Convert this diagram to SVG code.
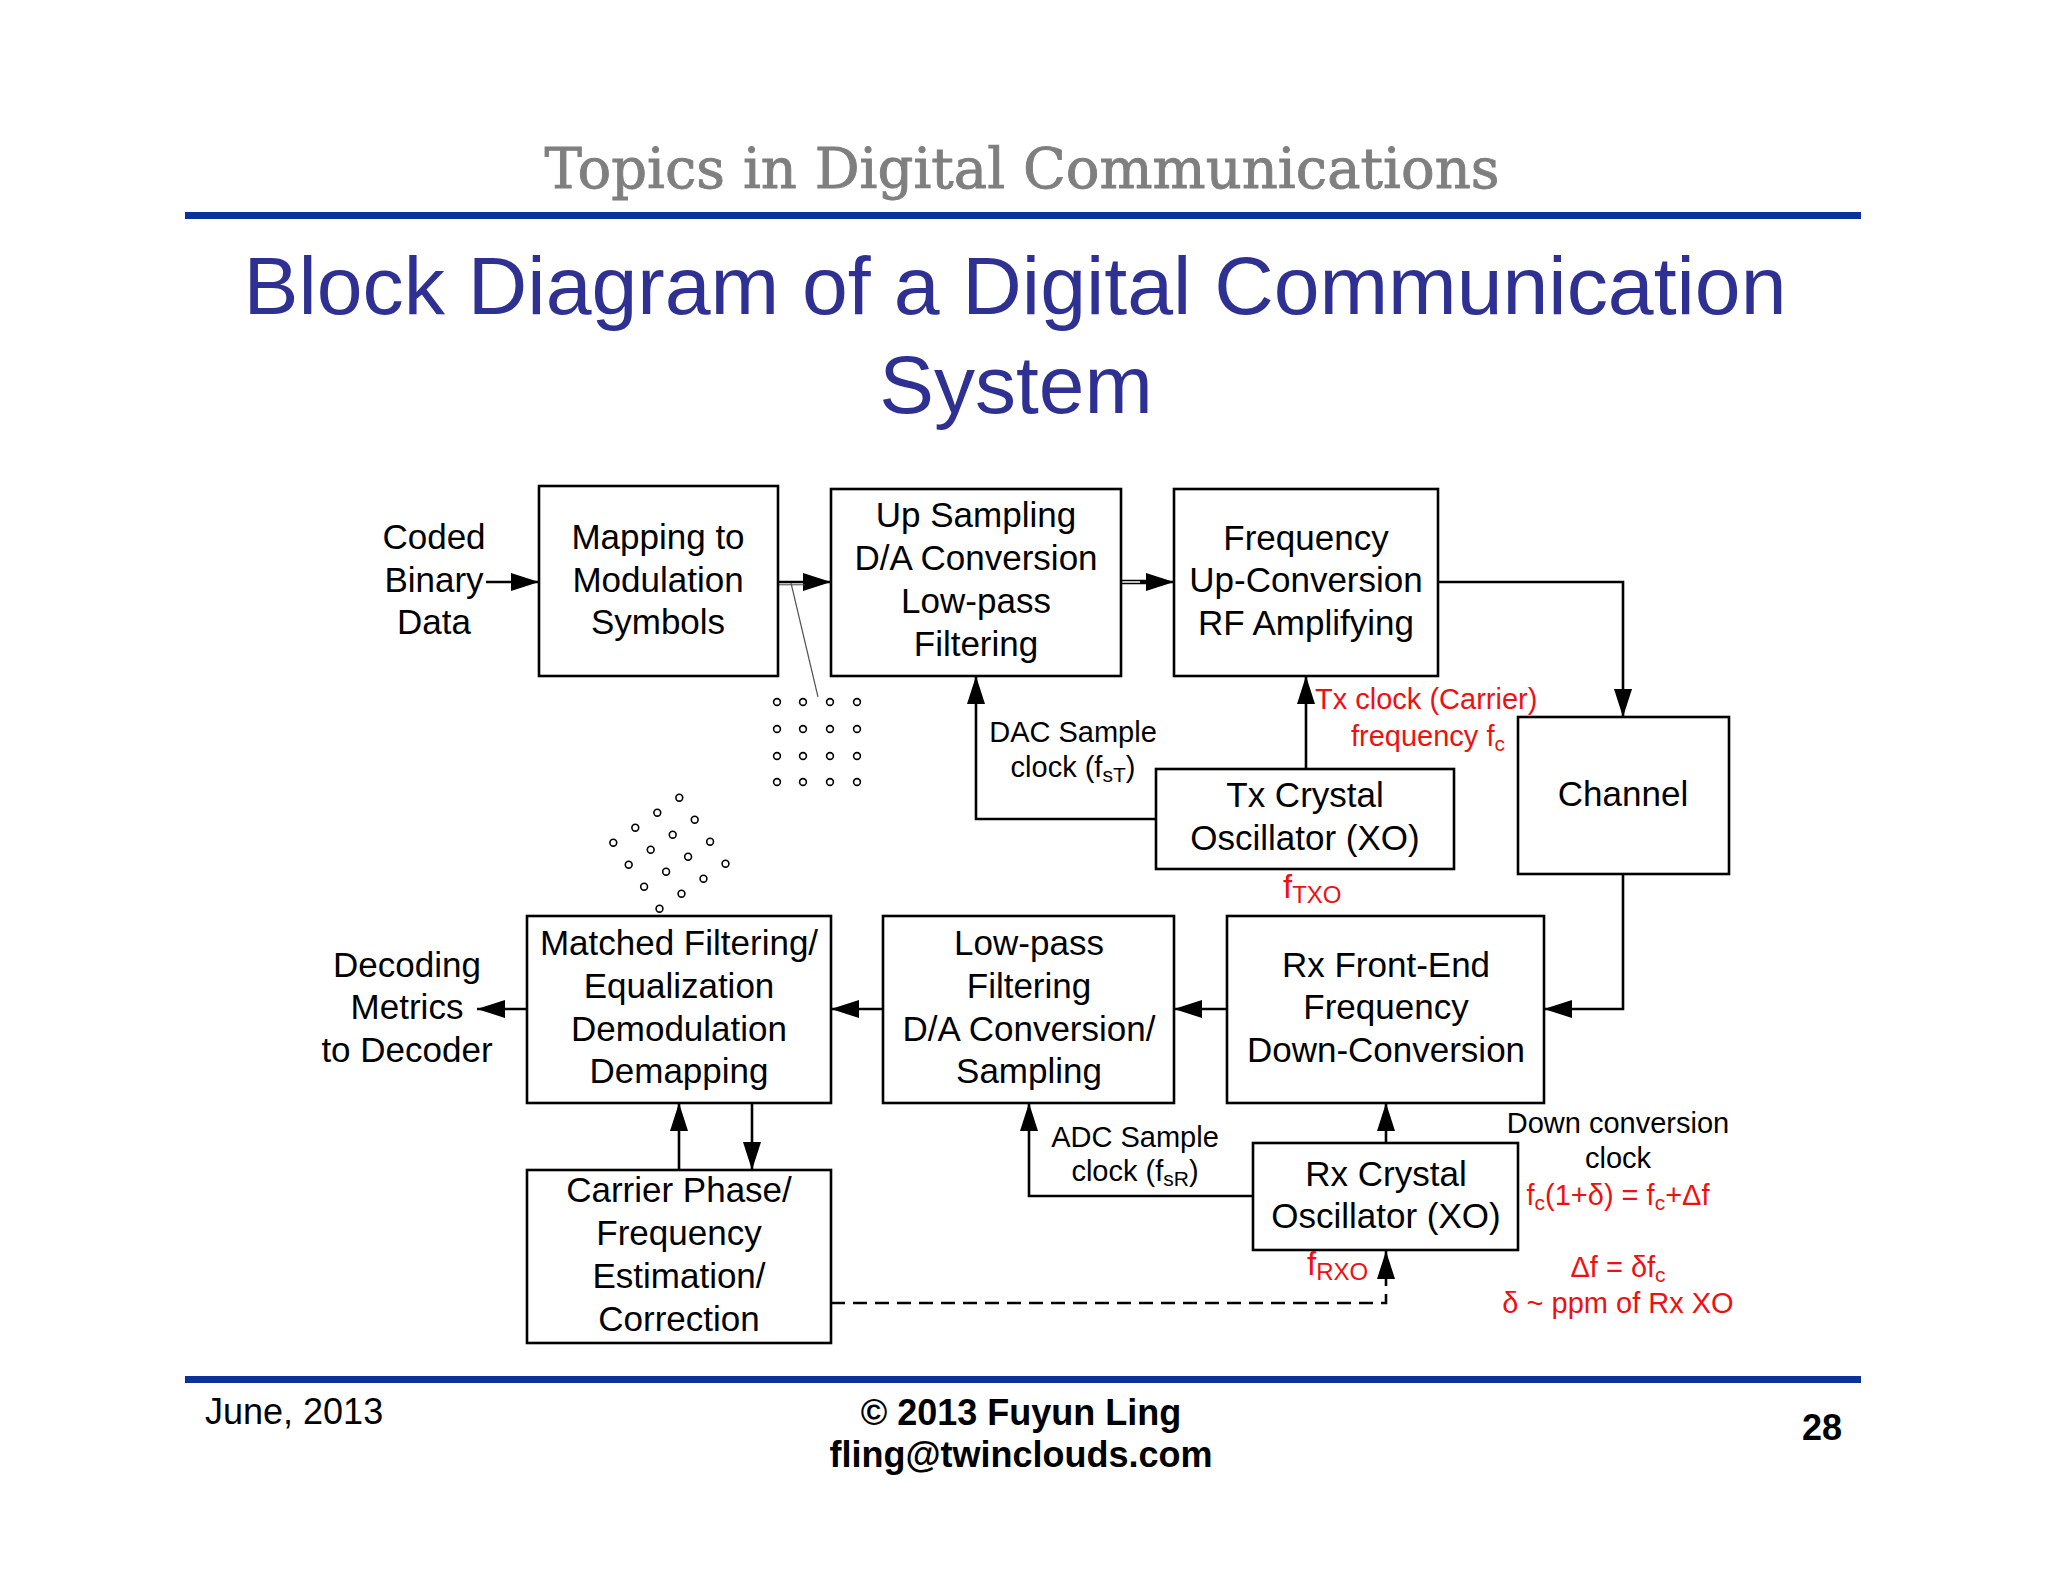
<svg xmlns="http://www.w3.org/2000/svg" width="2048" height="1582" viewBox="0 0 2048 1582">
<defs>
<style>
.box{fill:#fff;stroke:#000;stroke-width:2.6}
.ln{fill:none;stroke:#000;stroke-width:2.6}
.t{font-family:"Liberation Sans",Arial,sans-serif;font-size:35px;text-anchor:middle;fill:#000}
.s{font-size:29px}
.red{fill:#ee1111}
.sub{font-size:21px}
.fx{font-size:33px}
.fxs{font-size:24px}
.dot{fill:none;stroke:#000;stroke-width:1.6}
</style>
<marker id="arr" markerUnits="userSpaceOnUse" markerWidth="28" markerHeight="18" refX="28" refY="9" orient="auto" viewBox="0 0 28 18">
<path d="M0,0 L28,9 L0,18 Z" fill="#000" stroke="none"/>
</marker>
<circle id="d" r="3.4" class="dot"/>
</defs>
<rect width="2048" height="1582" fill="#fff"/>

<g id="header">
<text x="1022" y="188" font-family="'DejaVu Serif','Liberation Serif',serif" font-size="56" fill="#7f7f7f" stroke="#7f7f7f" stroke-width="0.9" text-anchor="middle" textLength="955" lengthAdjust="spacingAndGlyphs">Topics in Digital Communications</text>
<rect x="185" y="212" width="1676" height="7" fill="#0a3399"/>
<text x="1015" y="314" font-family="'Liberation Sans',Arial,sans-serif" font-size="82" fill="#2e3192" text-anchor="middle" textLength="1543" lengthAdjust="spacingAndGlyphs">Block Diagram of a Digital Communication</text>
<text x="1016" y="413" font-family="'Liberation Sans',Arial,sans-serif" font-size="82" fill="#2e3192" text-anchor="middle">System</text>
</g>

<g id="connectors">
<line class="ln" x1="486" y1="582" x2="539" y2="582" marker-end="url(#arr)"/>
<line class="ln" x1="778" y1="582" x2="831" y2="582" marker-end="url(#arr)"/>
<line x1="778" y1="584.8" x2="805" y2="584.8" stroke="#444" stroke-width="1"/>
<line x1="791" y1="583" x2="818" y2="697" stroke="#555" stroke-width="1.2"/>
<line x1="1121" y1="580.5" x2="1160" y2="580.5" stroke="#000" stroke-width="1.6"/>
<line x1="1121" y1="583.5" x2="1160" y2="583.5" stroke="#000" stroke-width="1.6"/>
<line class="ln" x1="1140" y1="582" x2="1174" y2="582" marker-end="url(#arr)"/>
<path class="ln" d="M1438,582 H1623 V717" marker-end="url(#arr)"/>
<line class="ln" x1="1306" y1="769" x2="1306" y2="676" marker-end="url(#arr)"/>
<path class="ln" d="M1156,819 H976 V676" marker-end="url(#arr)"/>
<path class="ln" d="M1623,874 V1009 H1544" marker-end="url(#arr)"/>
<line class="ln" x1="1227" y1="1009" x2="1174" y2="1009" marker-end="url(#arr)"/>
<line class="ln" x1="883" y1="1009" x2="831" y2="1009" marker-end="url(#arr)"/>
<line class="ln" x1="526" y1="1009" x2="477" y2="1009" marker-end="url(#arr)"/>
<line class="ln" x1="1386" y1="1143" x2="1386" y2="1103" marker-end="url(#arr)"/>
<path class="ln" d="M1253,1196 H1029 V1103" marker-end="url(#arr)"/>
<line class="ln" x1="679" y1="1170" x2="679" y2="1103" marker-end="url(#arr)"/>
<line class="ln" x1="752" y1="1103" x2="752" y2="1170" marker-end="url(#arr)"/>
<path class="ln" d="M831,1303 H1386 V1251" stroke-dasharray="14 8" marker-end="url(#arr)"/>
</g>

<g id="constellation-tx">
<use href="#d" x="777" y="702"/><use href="#d" x="803" y="702"/><use href="#d" x="830" y="702"/><use href="#d" x="857" y="702"/>
<use href="#d" x="777" y="729"/><use href="#d" x="803" y="729"/><use href="#d" x="830" y="729"/><use href="#d" x="857" y="729"/>
<use href="#d" x="777" y="756"/><use href="#d" x="803" y="756"/><use href="#d" x="830" y="756"/><use href="#d" x="857" y="756"/>
<use href="#d" x="777" y="782"/><use href="#d" x="803" y="782"/><use href="#d" x="830" y="782"/><use href="#d" x="857" y="782"/>
</g>
<g id="constellation-rx">
<use href="#d" x="613.3" y="842.7"/><use href="#d" x="628.7" y="864.7"/><use href="#d" x="644.1" y="886.7"/><use href="#d" x="659.5" y="908.7"/>
<use href="#d" x="635.3" y="827.7"/><use href="#d" x="650.7" y="849.7"/><use href="#d" x="666.1" y="871.7"/><use href="#d" x="681.5" y="893.7"/>
<use href="#d" x="657.3" y="812.7"/><use href="#d" x="672.7" y="834.7"/><use href="#d" x="688.1" y="856.7"/><use href="#d" x="703.5" y="878.7"/>
<use href="#d" x="679.3" y="797.7"/><use href="#d" x="694.7" y="819.7"/><use href="#d" x="710.1" y="841.7"/><use href="#d" x="725.5" y="863.7"/>
</g>

<g id="coded-binary-data">
<text class="t" x="434" y="549">Coded</text>
<text class="t" x="434" y="592">Binary</text>
<text class="t" x="434" y="634">Data</text>
</g>
<g id="mapping">
<rect class="box" x="539" y="486" width="239" height="190"/>
<text class="t" x="658" y="549">Mapping to</text>
<text class="t" x="658" y="592">Modulation</text>
<text class="t" x="658" y="634">Symbols</text>
</g>
<g id="upsampling">
<rect class="box" x="831" y="489" width="290" height="187"/>
<text class="t" x="976" y="527">Up Sampling</text>
<text class="t" x="976" y="570">D/A Conversion</text>
<text class="t" x="976" y="613">Low-pass</text>
<text class="t" x="976" y="656">Filtering</text>
</g>
<g id="freq-up">
<rect class="box" x="1174" y="489" width="264" height="187"/>
<text class="t" x="1306" y="550">Frequency</text>
<text class="t" x="1306" y="592">Up-Conversion</text>
<text class="t" x="1306" y="635">RF Amplifying</text>
</g>
<g id="channel">
<rect class="box" x="1518" y="717" width="211" height="157"/>
<text class="t" x="1623" y="806">Channel</text>
</g>
<g id="tx-xo">
<rect class="box" x="1156" y="769" width="298" height="100"/>
<text class="t" x="1305" y="807">Tx Crystal</text>
<text class="t" x="1305" y="850">Oscillator (XO)</text>
</g>
<g id="rx-frontend">
<rect class="box" x="1227" y="916" width="317" height="187"/>
<text class="t" x="1386" y="977">Rx Front-End</text>
<text class="t" x="1386" y="1019">Frequency</text>
<text class="t" x="1386" y="1062">Down-Conversion</text>
</g>
<g id="rx-lowpass">
<rect class="box" x="883" y="916" width="291" height="187"/>
<text class="t" x="1029" y="955">Low-pass</text>
<text class="t" x="1029" y="998">Filtering</text>
<text class="t" x="1029" y="1041">D/A Conversion/</text>
<text class="t" x="1029" y="1083">Sampling</text>
</g>
<g id="matched">
<rect class="box" x="527" y="916" width="304" height="187"/>
<text class="t" x="679" y="955">Matched Filtering/</text>
<text class="t" x="679" y="998">Equalization</text>
<text class="t" x="679" y="1041">Demodulation</text>
<text class="t" x="679" y="1083">Demapping</text>
</g>
<g id="carrier">
<rect class="box" x="527" y="1170" width="304" height="173"/>
<text class="t" x="679" y="1202">Carrier Phase/</text>
<text class="t" x="679" y="1245">Frequency</text>
<text class="t" x="679" y="1288">Estimation/</text>
<text class="t" x="679" y="1331">Correction</text>
</g>
<g id="rx-xo">
<rect class="box" x="1253" y="1143" width="265" height="107"/>
<text class="t" x="1386" y="1186">Rx Crystal</text>
<text class="t" x="1386" y="1228">Oscillator (XO)</text>
</g>
<g id="decoding">
<text class="t" x="407" y="977">Decoding</text>
<text class="t" x="407" y="1019">Metrics</text>
<text class="t" x="407" y="1062">to Decoder</text>
</g>

<g id="labels">
<text class="t s" x="1073" y="742">DAC Sample</text>
<text class="t s" x="1073" y="777">clock (f<tspan class="sub" dy="5">sT</tspan><tspan dy="-5">)</tspan></text>
<text class="t s red" x="1315" y="709" style="text-anchor:start">Tx clock (Carrier)</text>
<text class="t s red" x="1428" y="746">frequency f<tspan class="sub" dy="5">c</tspan></text>
<text class="t fx red" x="1283" y="898" style="text-anchor:start">f<tspan class="fxs" dy="5">TXO</tspan></text>
<text class="t s" x="1135" y="1147">ADC Sample</text>
<text class="t s" x="1135" y="1181">clock (f<tspan class="sub" dy="5">sR</tspan><tspan dy="-5">)</tspan></text>
<text class="t s" x="1618" y="1133">Down conversion</text>
<text class="t s" x="1618" y="1168">clock</text>
<text class="t s red" x="1618" y="1205">f<tspan class="sub" dy="5">c</tspan><tspan dy="-5">(1+δ) = f</tspan><tspan class="sub" dy="5">c</tspan><tspan dy="-5">+Δf</tspan></text>
<text class="t fx red" x="1307" y="1275" style="text-anchor:start">f<tspan class="fxs" dy="5">RXO</tspan></text>
<text class="t s red" x="1618" y="1277">Δf = δf<tspan class="sub" dy="5">c</tspan></text>
<text class="t s red" x="1618" y="1313">δ ~ ppm of Rx XO</text>
</g>

<g id="footer">
<rect x="185" y="1376" width="1676" height="7" fill="#0a3399"/>
<text x="205" y="1424" font-family="'Liberation Sans',Arial,sans-serif" font-size="36" fill="#000">June, 2013</text>
<text x="1021" y="1425" font-family="'Liberation Sans',Arial,sans-serif" font-size="36" font-weight="bold" fill="#000" text-anchor="middle">© 2013 Fuyun Ling</text>
<text x="1021" y="1467" font-family="'Liberation Sans',Arial,sans-serif" font-size="36" font-weight="bold" fill="#000" text-anchor="middle">fling@twinclouds.com</text>
<text x="1822" y="1440" font-family="'Liberation Sans',Arial,sans-serif" font-size="36" font-weight="bold" fill="#000" text-anchor="middle">28</text>
</g>
</svg>
